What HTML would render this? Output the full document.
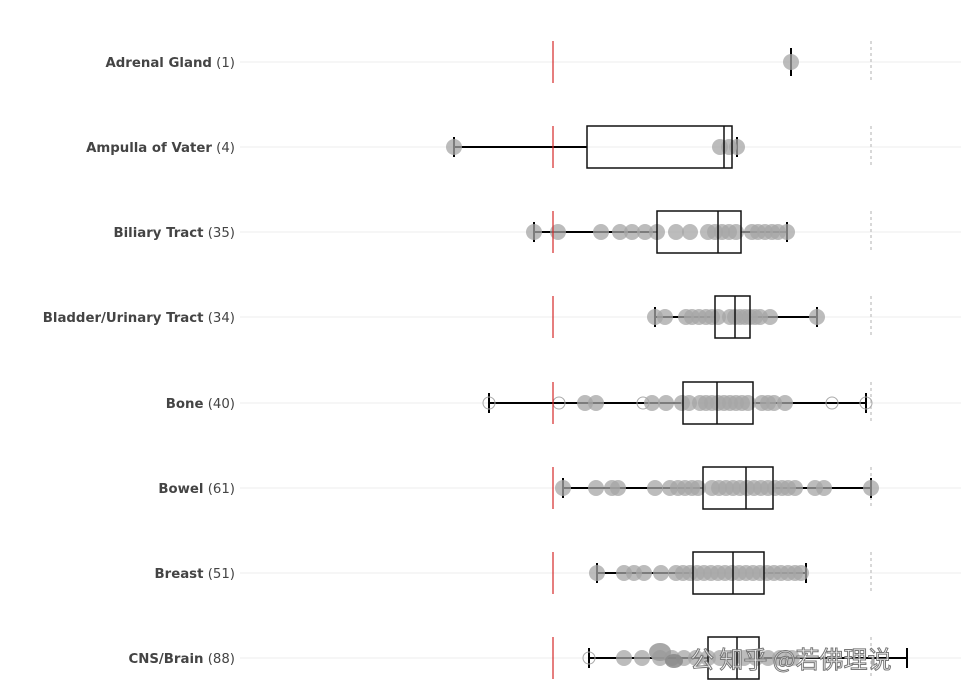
<!DOCTYPE html>
<html><head><meta charset="utf-8"><style>
html,body{margin:0;padding:0;background:#fff;width:961px;height:697px;overflow:hidden}
svg{display:block}
.lab{font-family:"DejaVu Sans","Liberation Sans",sans-serif;font-size:13.3px;fill:#444}
.g{stroke:#ececec;stroke-width:1}
.d{fill:#a6a6a6;fill-opacity:.75}
.o{fill:none;stroke:#aaa;stroke-width:1}
.w{stroke:#000;stroke-width:2;fill:none}
.b{stroke:#111;stroke-width:1.5;fill:none}
</style></head><body>
<svg width="961" height="697" xmlns="http://www.w3.org/2000/svg">
<g class="g">
<line x1="240" y1="62" x2="961" y2="62"/><line x1="240" y1="147" x2="961" y2="147"/>
<line x1="240" y1="232" x2="961" y2="232"/><line x1="240" y1="317" x2="961" y2="317"/>
<line x1="240" y1="403" x2="961" y2="403"/><line x1="240" y1="488" x2="961" y2="488"/>
<line x1="240" y1="573" x2="961" y2="573"/><line x1="240" y1="658" x2="961" y2="658"/>
</g>
<g stroke="#ccc" stroke-dasharray="3,3" stroke-width="1.5">
<line x1="871" y1="41" x2="871" y2="83"/><line x1="871" y1="126" x2="871" y2="168"/>
<line x1="871" y1="211" x2="871" y2="253"/><line x1="871" y1="296" x2="871" y2="338"/>
<line x1="871" y1="382" x2="871" y2="424"/><line x1="871" y1="467" x2="871" y2="509"/>
<line x1="871" y1="552" x2="871" y2="594"/><line x1="871" y1="637" x2="871" y2="679"/>
</g>
<g text-anchor="end" class="lab">
<text x="235" y="67"><tspan font-weight="bold">Adrenal Gland</tspan> (1)</text>
<text x="235" y="152"><tspan font-weight="bold">Ampulla of Vater</tspan> (4)</text>
<text x="235" y="237"><tspan font-weight="bold">Biliary Tract</tspan> (35)</text>
<text x="235" y="322"><tspan font-weight="bold">Bladder/Urinary Tract</tspan> (34)</text>
<text x="235" y="408"><tspan font-weight="bold">Bone</tspan> (40)</text>
<text x="235" y="493"><tspan font-weight="bold">Bowel</tspan> (61)</text>
<text x="235" y="578"><tspan font-weight="bold">Breast</tspan> (51)</text>
<text x="235" y="663"><tspan font-weight="bold">CNS/Brain</tspan> (88)</text>
</g>
<g class="w">
<line x1="791" y1="48" x2="791" y2="76"/>
<line x1="454" y1="147" x2="587" y2="147"/><line x1="454" y1="137" x2="454" y2="157"/><line x1="737" y1="137" x2="737" y2="157"/>
<line x1="534" y1="232" x2="657" y2="232"/><line x1="741" y1="232" x2="787" y2="232"/><line x1="534" y1="222" x2="534" y2="242"/><line x1="787" y1="222" x2="787" y2="242"/>
<line x1="655" y1="317" x2="715" y2="317"/><line x1="750" y1="317" x2="817" y2="317"/><line x1="655" y1="307" x2="655" y2="327"/><line x1="817" y1="307" x2="817" y2="327"/>
<line x1="489" y1="403" x2="683" y2="403"/><line x1="753" y1="403" x2="866" y2="403"/><line x1="489" y1="393" x2="489" y2="413"/><line x1="866" y1="393" x2="866" y2="413"/>
<line x1="563" y1="488" x2="703" y2="488"/><line x1="773" y1="488" x2="871" y2="488"/><line x1="563" y1="478" x2="563" y2="498"/><line x1="871" y1="478" x2="871" y2="498"/>
<line x1="597" y1="573" x2="693" y2="573"/><line x1="764" y1="573" x2="806" y2="573"/><line x1="597" y1="563" x2="597" y2="583"/><line x1="806" y1="563" x2="806" y2="583"/>
<line x1="589" y1="658" x2="708" y2="658"/><line x1="759" y1="658" x2="907" y2="658"/><line x1="589" y1="648" x2="589" y2="668"/><line x1="907" y1="648" x2="907" y2="668"/>
</g>
<g class="d">
<circle cx="791" cy="62" r="8"/>
<circle cx="454" cy="147" r="8"/><circle cx="720" cy="147" r="8"/><circle cx="729" cy="147" r="8"/><circle cx="737" cy="147" r="8"/>
<circle cx="534" cy="232" r="8"/><circle cx="558" cy="232" r="8"/><circle cx="601" cy="232" r="8"/><circle cx="620" cy="232" r="8"/><circle cx="632" cy="232" r="8"/><circle cx="645" cy="232" r="8"/><circle cx="657" cy="232" r="8"/><circle cx="676" cy="232" r="8"/><circle cx="690" cy="232" r="8"/><circle cx="708" cy="232" r="8"/><circle cx="715" cy="232" r="8"/><circle cx="722" cy="232" r="8"/><circle cx="729" cy="232" r="8"/><circle cx="736" cy="232" r="8"/><circle cx="752" cy="232" r="8"/><circle cx="758" cy="232" r="8"/><circle cx="765" cy="232" r="8"/><circle cx="772" cy="232" r="8"/><circle cx="778" cy="232" r="8"/><circle cx="787" cy="232" r="8"/>
<circle cx="655" cy="317" r="8"/><circle cx="665" cy="317" r="8"/><circle cx="686" cy="317" r="8"/><circle cx="692" cy="317" r="8"/><circle cx="699" cy="317" r="8"/><circle cx="706" cy="317" r="8"/><circle cx="712" cy="317" r="8"/><circle cx="718" cy="317" r="8"/><circle cx="730" cy="317" r="8"/><circle cx="735" cy="317" r="8"/><circle cx="740" cy="317" r="8"/><circle cx="745" cy="317" r="8"/><circle cx="750" cy="317" r="8"/><circle cx="755" cy="317" r="8"/><circle cx="760" cy="317" r="8"/><circle cx="770" cy="317" r="8"/><circle cx="817" cy="317" r="8"/>
<circle cx="585" cy="403" r="8"/><circle cx="596" cy="403" r="8"/><circle cx="652" cy="403" r="8"/><circle cx="666" cy="403" r="8"/><circle cx="682" cy="403" r="8"/><circle cx="689" cy="403" r="8"/><circle cx="700" cy="403" r="8"/><circle cx="706" cy="403" r="8"/><circle cx="712" cy="403" r="8"/><circle cx="718" cy="403" r="8"/><circle cx="724" cy="403" r="8"/><circle cx="730" cy="403" r="8"/><circle cx="736" cy="403" r="8"/><circle cx="742" cy="403" r="8"/><circle cx="748" cy="403" r="8"/><circle cx="762" cy="403" r="8"/><circle cx="768" cy="403" r="8"/><circle cx="774" cy="403" r="8"/><circle cx="785" cy="403" r="8"/>
<circle cx="563" cy="488" r="8"/><circle cx="596" cy="488" r="8"/><circle cx="612" cy="488" r="8"/><circle cx="618" cy="488" r="8"/><circle cx="655" cy="488" r="8"/><circle cx="670" cy="488" r="8"/><circle cx="678" cy="488" r="8"/><circle cx="685" cy="488" r="8"/><circle cx="692" cy="488" r="8"/><circle cx="698" cy="488" r="8"/><circle cx="712" cy="488" r="8"/><circle cx="719" cy="488" r="8"/><circle cx="726" cy="488" r="8"/><circle cx="733" cy="488" r="8"/><circle cx="740" cy="488" r="8"/><circle cx="747" cy="488" r="8"/><circle cx="754" cy="488" r="8"/><circle cx="761" cy="488" r="8"/><circle cx="768" cy="488" r="8"/><circle cx="775" cy="488" r="8"/><circle cx="782" cy="488" r="8"/><circle cx="788" cy="488" r="8"/><circle cx="795" cy="488" r="8"/><circle cx="815" cy="488" r="8"/><circle cx="824" cy="488" r="8"/><circle cx="871" cy="488" r="8"/>
<circle cx="597" cy="573" r="8"/><circle cx="624" cy="573" r="8"/><circle cx="634" cy="573" r="8"/><circle cx="644" cy="573" r="8"/><circle cx="661" cy="573" r="8"/><circle cx="676" cy="573" r="8"/><circle cx="683" cy="573" r="8"/><circle cx="690" cy="573" r="8"/><circle cx="697" cy="573" r="8"/><circle cx="704" cy="573" r="8"/><circle cx="711" cy="573" r="8"/><circle cx="718" cy="573" r="8"/><circle cx="725" cy="573" r="8"/><circle cx="732" cy="573" r="8"/><circle cx="739" cy="573" r="8"/><circle cx="746" cy="573" r="8"/><circle cx="753" cy="573" r="8"/><circle cx="760" cy="573" r="8"/><circle cx="767" cy="573" r="8"/><circle cx="774" cy="573" r="8"/><circle cx="781" cy="573" r="8"/><circle cx="788" cy="573" r="8"/><circle cx="795" cy="573" r="8"/><circle cx="801" cy="573" r="8"/>
<circle cx="624" cy="658" r="8"/><circle cx="642" cy="658" r="8"/><circle cx="660" cy="658" r="8"/><circle cx="672" cy="658" r="8"/><circle cx="684" cy="658" r="8"/><circle cx="696" cy="658" r="8"/><circle cx="708" cy="658" r="8"/><circle cx="720" cy="658" r="8"/><circle cx="732" cy="658" r="8"/><circle cx="744" cy="658" r="8"/><circle cx="756" cy="658" r="8"/><circle cx="768" cy="658" r="8"/><circle cx="780" cy="658" r="8"/><circle cx="792" cy="658" r="8"/>
</g>
<g class="o">
<circle cx="489" cy="403" r="6"/><circle cx="559" cy="403" r="6"/><circle cx="643" cy="403" r="6"/><circle cx="832" cy="403" r="6"/><circle cx="866" cy="403" r="6"/>
<circle cx="589" cy="658" r="6"/>
</g>
<g class="b">
<rect x="587" y="126" width="145" height="42"/><line x1="724" y1="126" x2="724" y2="168"/>
<rect x="657" y="211" width="84" height="42"/><line x1="718" y1="211" x2="718" y2="253"/>
<rect x="715" y="296" width="35" height="42"/><line x1="735" y1="296" x2="735" y2="338"/>
<rect x="683" y="382" width="70" height="42"/><line x1="717" y1="382" x2="717" y2="424"/>
<rect x="703" y="467" width="70" height="42"/><line x1="746" y1="467" x2="746" y2="509"/>
<rect x="693" y="552" width="71" height="42"/><line x1="733" y1="552" x2="733" y2="594"/>
<rect x="708" y="637" width="51" height="42"/><line x1="737" y1="637" x2="737" y2="679"/>
</g>
<g stroke="#d62728" stroke-width="1.2">
<line x1="553" y1="41" x2="553" y2="83"/><line x1="553" y1="126" x2="553" y2="168"/>
<line x1="553" y1="211" x2="553" y2="253"/><line x1="553" y1="296" x2="553" y2="338"/>
<line x1="553" y1="382" x2="553" y2="424"/><line x1="553" y1="467" x2="553" y2="509"/>
<line x1="553" y1="552" x2="553" y2="594"/><line x1="553" y1="637" x2="553" y2="679"/>
</g>
<ellipse cx="660" cy="652" rx="11" ry="9" fill="#999" fill-opacity="0.85"/>
<ellipse cx="674" cy="661" rx="9" ry="7" fill="#888" fill-opacity="0.85"/>
<text x="690" y="668" font-family="'Noto Sans CJK SC',sans-serif" font-size="24" fill="#fff" stroke="#777" stroke-width="1" fill-opacity="0.8">公 知乎 @若佛理说</text>
</svg>
</body></html>
